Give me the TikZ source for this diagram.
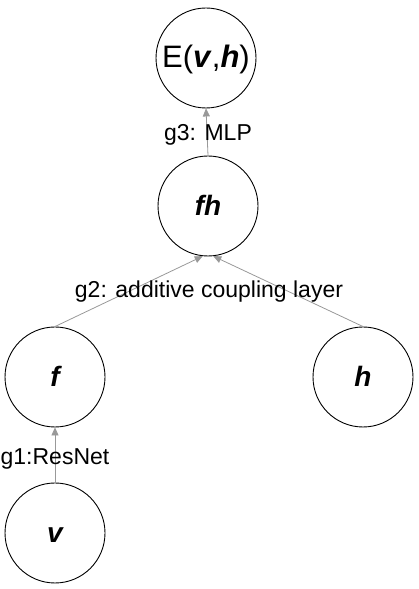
\documentclass[tikz,border=0pt]{standalone}
\usepackage{fontspec}
\setmainfont{Liberation Sans}
\usetikzlibrary{arrows.meta}
\begin{document}
\begin{tikzpicture}[x=1pt,y=1pt,
  unit/.style={circle,draw=black,line width=0.9pt,minimum size=100pt,inner sep=0pt,
    text height=20pt,text depth=0pt,font=\fontsize{28}{30}\selectfont\bfseries\itshape},
  conn/.style={draw=black!40,line width=0.8pt,-{Triangle[length=8pt,width=7pt]}},
  lbl/.style={anchor=base,inner sep=0pt,font=\fontsize{23}{26}\selectfont}]
\useasboundingbox (0,0) rectangle (419,589);
\node[unit,font=\fontsize{31}{33}\selectfont] (E) at (206,531) {E(\textbf{\textit{v}},\textbf{\textit{h}})};
\node[unit] (fh) at (208,383) {fh};
\node[unit] (f) at (55,212) {f};
\node[unit] (h) at (363,212) {h};
\node[unit] (v) at (55,56) {v};
\draw[conn] (fh.north) -- (E.south);
\draw[conn] (f.north) -- (fh.264);
\draw[conn] (h.north) -- (fh.276);
\draw[conn] (v.north) -- (f.south);
\node[lbl] (l3) at (208,448) {g3: MLP};
\node[lbl] (l2) at (209,291) {g2: additive coupling layer};
\node[lbl] (l1) at (55,124) {g1:ResNet};
\end{tikzpicture}
\end{document}
